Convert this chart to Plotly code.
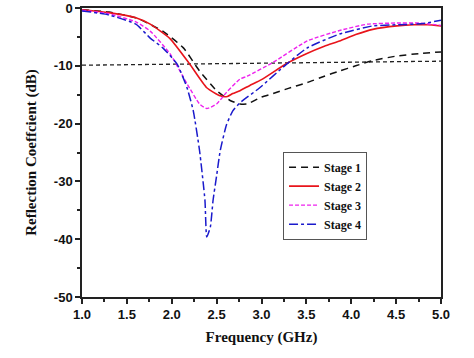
import plotly.graph_objects as go

# Frequency (GHz) / reflection coefficient (dB)
f1 = [1.0, 1.3, 1.6, 1.9, 2.13, 2.31, 2.5, 2.65, 2.76, 2.84, 3.0, 3.13, 3.3, 3.51, 3.7, 3.87, 4.05, 4.24, 4.51, 4.75, 5.0]
s1 = [-0.3, -0.7, -1.7, -4.0, -6.9, -10.9, -14.3, -16.0, -16.6, -16.6, -15.4, -14.8, -13.9, -12.9, -11.8, -10.9, -10.0, -9.1, -8.3, -7.9, -7.6]

f2 = [1.0, 1.3, 1.6, 1.76, 1.98, 2.2, 2.39, 2.54, 2.62, 2.68, 2.76, 2.87, 3.0, 3.28, 3.5, 3.7, 3.87, 4.05, 4.24, 4.51, 4.7, 4.85, 5.0]
s2 = [-0.3, -0.8, -1.7, -2.8, -5.3, -9.7, -13.8, -15.2, -15.3, -14.8, -14.3, -13.4, -12.4, -9.6, -7.9, -6.6, -5.7, -4.6, -3.7, -3.1, -2.9, -2.9, -3.1]

f3 = [1.0, 1.3, 1.6, 1.76, 1.98, 2.17, 2.31, 2.39, 2.5, 2.61, 2.76, 2.84, 3.13, 3.51, 3.87, 4.18, 4.51, 4.75, 5.0]
s3 = [-0.4, -1.0, -2.4, -4.0, -7.9, -13.1, -16.6, -17.4, -16.6, -14.6, -12.3, -11.8, -9.4, -5.7, -3.9, -2.8, -2.6, -2.6, -3.0]

f4 = [1.0, 1.3, 1.6, 1.76, 1.9, 2.06, 2.17, 2.24, 2.31, 2.37, 2.39, 2.43, 2.46, 2.5, 2.54, 2.61, 2.68, 2.76, 2.98, 3.28, 3.51, 3.87, 4.24, 4.51, 4.8, 5.0]
s4 = [-0.5, -1.2, -2.8, -5.2, -6.9, -9.7, -13.8, -17.8, -24.7, -33.3, -39.6, -37.9, -33.3, -29.0, -24.7, -20.2, -17.8, -16.4, -13.8, -9.7, -6.9, -4.5, -3.1, -2.9, -2.7, -2.1]

fref = [1.0, 5.0]
sref = [-9.9, -9.2]

names = ["Stage 1", "Stage 2", "Stage 3", "Stage 4"]
x_ticks = [1.0, 1.5, 2.0, 2.5, 3.0, 3.5, 4.0, 4.5, 5.0]
y_ticks = [0, -10, -20, -30, -40, -50]

fig = go.Figure()
fig.add_trace(go.Scatter(x=fref, y=sref, mode="lines", showlegend=False,
                         line=dict(color="#222222", width=1.3, dash="4px,3px")))
styles = [
    dict(color="#111111", width=1.5, dash="7px,5px"),
    dict(color="#e8141b", width=1.6, dash="solid"),
    dict(color="#ee22ee", width=1.4, dash="4px,2px"),
    dict(color="#1a1acc", width=1.5, dash="dashdot"),
]
for fx, sy, nm, st in zip([f1, f2, f3, f4], [s1, s2, s3, s4], names, styles):
    fig.add_trace(go.Scatter(x=fx, y=sy, mode="lines", name=nm, line=dict(shape="spline", smoothing=0.5, **st)))

axis_common = dict(showline=True, linecolor="#222222", linewidth=1.5, mirror=True,
                   ticks="outside", tickcolor="#222222", ticklen=5, tickwidth=1.5,
                   showgrid=False, zeroline=False, automargin=False,
                   tickfont=dict(family="Liberation Sans", size=13, color="#111111", weight="bold"))
fig.update_layout(
    width=474, height=358,
    margin=dict(l=82, r=33, t=8, b=61),
    plot_bgcolor="white", paper_bgcolor="white",
    xaxis=dict(range=[1.0, 5.0], tickvals=x_ticks, ticktext=[f"{v:.1f}" for v in x_ticks],
               minor=dict(dtick=0.25, ticks="outside", ticklen=3, tickcolor="#222222"),
               title=dict(text="Frequency (GHz)", font=dict(family="Liberation Serif", size=15, color="#111111", weight="bold"), standoff=10),
               **axis_common),
    yaxis=dict(range=[-50, 0], tickvals=y_ticks, ticktext=[str(v) for v in y_ticks],
               minor=dict(dtick=5, ticks="outside", ticklen=3, tickcolor="#222222"),
               title=dict(text="Reflection Coeffcient (dB)", font=dict(family="Liberation Serif", size=15, color="#111111", weight="bold"), standoff=14),
               **axis_common),
    legend=dict(x=0.56, y=0.503, xanchor="left", yanchor="top",
                bordercolor="#555555", borderwidth=1, bgcolor="white",
                font=dict(family="Liberation Serif", size=12, color="#111111", weight="bold"),
                tracegroupgap=0, itemwidth=30),
)
fig.write_html("out.html", config={"displayModeBar": False},
               post_script="document.body.style.margin='0';")
